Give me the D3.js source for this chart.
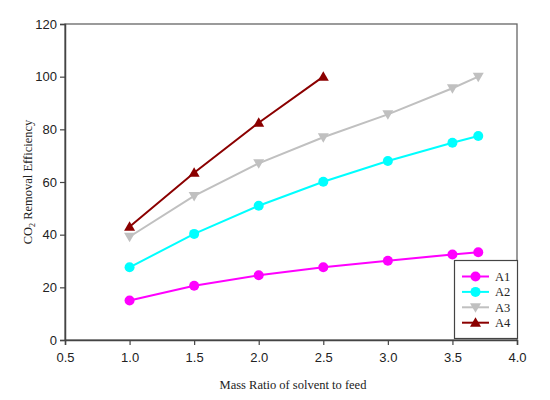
<!DOCTYPE html>
<html>
<head>
<meta charset="utf-8">
<script src="https://cdn.jsdelivr.net/npm/d3@7"></script>
<style>
  body { margin: 0; background: #fff; }
  svg { display: block; }
</style>
</head>
<body>
<div class="Canvas"></div>
<script>
// data
const seriesNames = ['A1', 'A2', 'A3', 'A4'];
const xA1 = [1.0, 1.5, 2.0, 2.5, 3.0, 3.5, 3.7];
const yA1 = [15.0, 20.6, 24.6, 27.6, 30.1, 32.5, 33.3];
const xA2 = [1.0, 1.5, 2.0, 2.5, 3.0, 3.5, 3.7];
const yA2 = [27.6, 40.3, 51.0, 60.1, 68.0, 74.9, 77.5];
const xA3 = [1.0, 1.5, 2.0, 2.5, 3.0, 3.5, 3.7];
const yA3 = [39.2, 54.7, 67.1, 77.0, 85.7, 95.6, 100.0];
const xA4 = [1.0, 1.5, 2.0, 2.5];
const yA4 = [43.0, 63.5, 82.5, 100.0];
const xTicks = [0.5, 1.0, 1.5, 2.0, 2.5, 3.0, 3.5, 4.0];
const yTicks = [0, 20, 40, 60, 80, 100, 120];

const colors = ['#ff00ff', '#00ffff', '#c0c0c0', '#8b0000'];
const symbols = ['circle', 'circle', 'down', 'up'];

const width = 550;
const height = 400;
const margin = { top: 24, right: 33, bottom: 60, left: 65 };

const svg = d3.select('.Canvas').append('svg').attr('width', width).attr('height', height);

const x = d3.scaleLinear().domain([0.5, 4.0]).range([margin.left, width - margin.right]);
const y = d3.scaleLinear().domain([0, 120]).range([height - margin.bottom, margin.top]);

const series = [
  { name: 'A1', xs: xA1, ys: yA1 },
  { name: 'A2', xs: xA2, ys: yA2 },
  { name: 'A3', xs: xA3, ys: yA3 },
  { name: 'A4', xs: xA4, ys: yA4 },
];

// frame
svg
  .append('rect')
  .attr('x', x(0.5))
  .attr('y', y(120))
  .attr('width', x(4.0) - x(0.5))
  .attr('height', y(0) - y(120))
  .attr('fill', 'none')
  .attr('stroke', '#666')
  .attr('stroke-width', 1.3);

const tickFont = '"Liberation Sans", Arial, sans-serif';

const xAxis = svg
  .append('g')
  .attr('transform', `translate(0,${y(0)})`)
  .call(d3.axisBottom(x).tickValues(xTicks).tickFormat(d3.format('.1f')).tickSizeOuter(0).tickSize(5));
const yAxis = svg
  .append('g')
  .attr('transform', `translate(${x(0.5)},0)`)
  .call(d3.axisLeft(y).tickValues(yTicks).tickFormat(d3.format('d')).tickSizeOuter(0).tickSize(5));

[xAxis, yAxis].forEach((g) => {
  g.select('.domain').attr('stroke', '#444').attr('stroke-width', 1.5);
  g.selectAll('.tick line').attr('stroke', '#444').attr('stroke-width', 1.2);
  g.selectAll('.tick text')
    .attr('font-family', tickFont)
    .attr('font-size', '13px')
    .attr('fill', '#222');
});
xAxis.selectAll('.tick text').attr('dy', '1.1em');
yAxis.selectAll('.tick text').attr('x', -8);

// axis titles
svg
  .append('text')
  .attr('x', (x(0.5) + x(4.0)) / 2 + 2)
  .attr('y', 389)
  .attr('text-anchor', 'middle')
  .attr('font-family', '"Liberation Serif", "Times New Roman", serif')
  .attr('font-size', '12.5px')
  .attr('fill', '#222')
  .text('Mass Ratio of solvent to feed');

const yTitle = svg
  .append('text')
  .attr('transform', `translate(32,${(y(0) + y(120)) / 2}) rotate(-90)`)
  .attr('text-anchor', 'middle')
  .attr('font-family', '"Liberation Serif", "Times New Roman", serif')
  .attr('font-size', '12.5px')
  .attr('fill', '#222');
yTitle.append('tspan').text('CO');
yTitle.append('tspan').attr('font-size', '8px').attr('dy', '3').text('2');
yTitle.append('tspan').attr('dy', '-3').text(' Removal Efficiency');

const drawMarker = (g, kind, color, cx, cy) => {
  if (kind === 'circle') {
    g.append('circle').attr('cx', cx).attr('cy', cy).attr('r', 5).attr('fill', color);
  } else {
    const s = kind === 'up' ? -1 : 1;
    const pts = [
      [cx - 5.5, cy - s * 4],
      [cx + 5.5, cy - s * 4],
      [cx, cy + s * 5.5],
    ];
    g.append('polygon').attr('points', pts.map((p) => p.join(',')).join(' ')).attr('fill', color);
  }
};

const line = d3
  .line()
  .x((d) => x(d[0]))
  .y((d) => y(d[1]));

series.forEach((s, i) => {
  const pts = s.xs.map((v, j) => [v, s.ys[j]]);
  const g = svg.append('g');
  g.append('path')
    .datum(pts)
    .attr('d', line)
    .attr('fill', 'none')
    .attr('stroke', colors[i])
    .attr('stroke-width', 2);
  pts.forEach((p) => drawMarker(g, symbols[i], colors[i], x(p[0]), y(p[1])));
});

// legend
const lg = svg.append('g');
lg.append('rect')
  .attr('x', 454.5)
  .attr('y', 260.5)
  .attr('width', 63)
  .attr('height', 78)
  .attr('fill', '#fff')
  .attr('stroke', '#444')
  .attr('stroke-width', 1.2);
seriesNames.forEach((name, i) => {
  const ly = 276.5 + i * 15.4;
  lg.append('line')
    .attr('x1', 462)
    .attr('x2', 489)
    .attr('y1', ly)
    .attr('y2', ly)
    .attr('stroke', colors[i])
    .attr('stroke-width', 2);
  drawMarker(lg, symbols[i], colors[i], 475.5, ly);
  lg.append('text')
    .attr('x', 495)
    .attr('y', ly + 4.5)
    .attr('font-family', '"Liberation Serif", "Times New Roman", serif')
    .attr('font-size', '12.5px')
    .attr('fill', '#222')
    .text(name);
});
</script>
</body>
</html>
